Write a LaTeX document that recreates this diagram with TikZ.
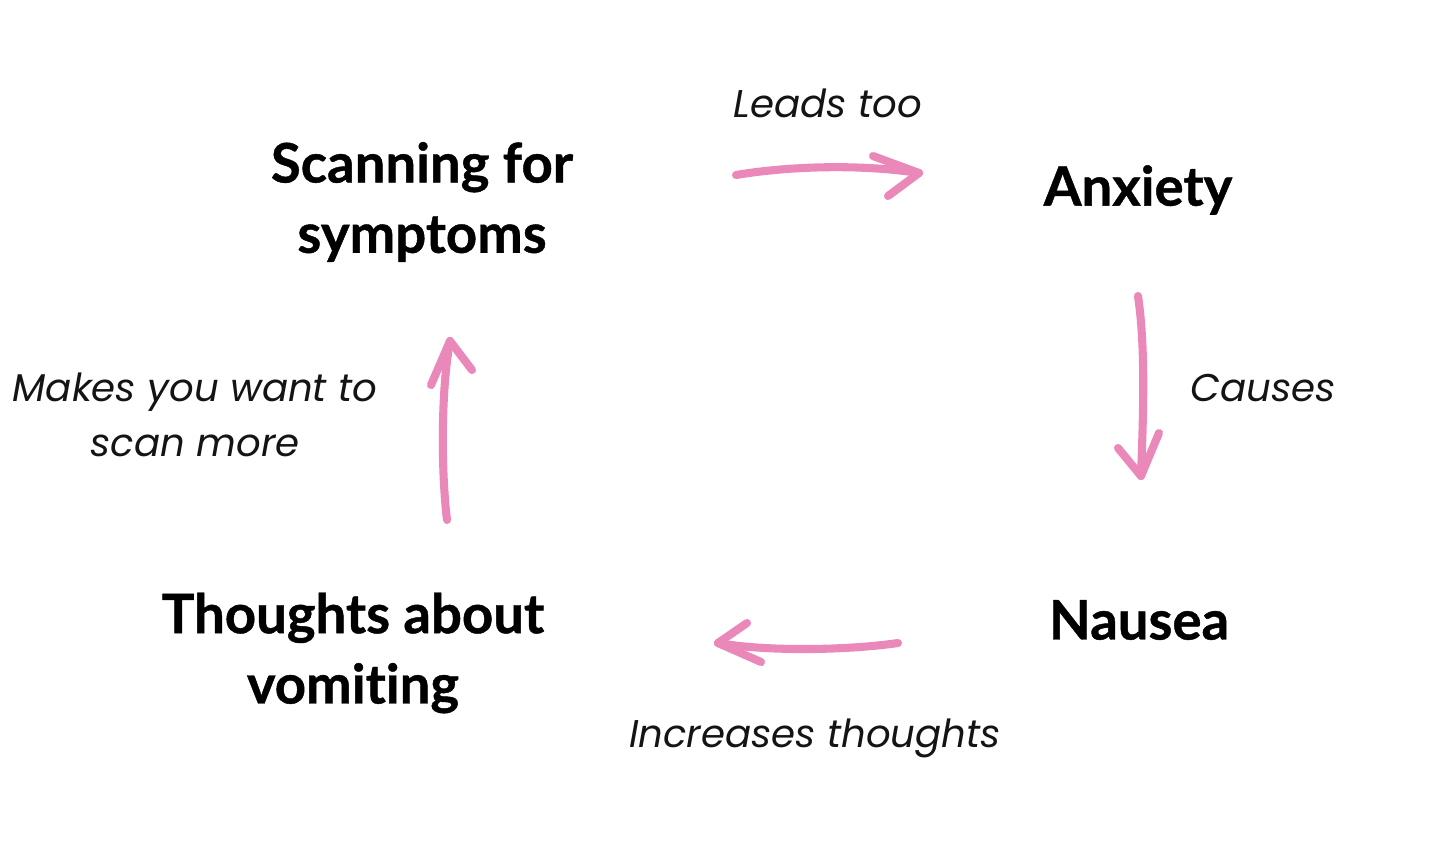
\documentclass[tikz,border=0pt]{standalone}
\usepackage{fontspec}
\setmainfont{Poppins}
\newfontfamily\headfont{Lato}[Ligatures=NoCommon, BoldFeatures={FakeBold=0.8}]
\definecolor{pinkarrow}{RGB}{234,136,186}
\tikzset{
  mainlabel/.style={font=\headfont\fontsize{31}{40}\selectfont\bfseries, align=center, text=black, inner sep=0pt},
  edgelabel/.style={font=\fontsize{22}{31}\selectfont\itshape, align=center, text=black!92, inner sep=0pt},
  penstroke/.style={draw=pinkarrow, line width=4.6pt, line cap=round, line join=round},
}
\begin{document}
\begin{tikzpicture}[x=0.02cm,y=-0.02cm]
\useasboundingbox (0,0) rectangle (1434,860);
% main nodes
\node[mainlabel] (scan) at (422,202) {Scanning for\\symptoms};
\node[mainlabel] (anx) at (1138,190) {Anxiety};
\node[mainlabel] (nau) at (1139,620) {Nausea};
\node[mainlabel] (tho) at (353,653) {Thoughts about\\vomiting};
% edge labels
\node[edgelabel] (l1) at (828,103) {Leads too};
\node[edgelabel] (l2) at (1263,388) {Causes};
\node[edgelabel] (l3) at (815,738) {Increases thoughts};
\node[edgelabel] (l4) at (195,415) {Makes you want to\\scan more};
% arrow end points
\coordinate (a1s) at (736,175); \coordinate (a1t) at (919,173);
\coordinate (a2s) at (1138,296); \coordinate (a2t) at (1141,476);
\coordinate (a3s) at (898,643); \coordinate (a3t) at (718,643);
\coordinate (a4s) at (447,520); \coordinate (a4t) at (450,341);
% arrow 1
\draw[penstroke] (a1s) .. controls (790,166) and (860,164) .. (a1t);
\draw[penstroke] (873,156) -- (a1t) -- (888,196);
% arrow 2
\draw[penstroke] (a2s) .. controls (1146,350) and (1143,420) .. (a2t);
\draw[penstroke] (1118,448) -- (a2t) -- (1159,433);
% arrow 3
\draw[penstroke] (a3s) .. controls (850,650) and (770,652) .. (a3t);
\draw[penstroke] (747,623) -- (a3t) -- (761,662);
% arrow 4
\draw[penstroke] (a4s) .. controls (441,470) and (441,390) .. (a4t);
\draw[penstroke] (431,385) -- (a4t) -- (472,370);
\end{tikzpicture}
\end{document}
